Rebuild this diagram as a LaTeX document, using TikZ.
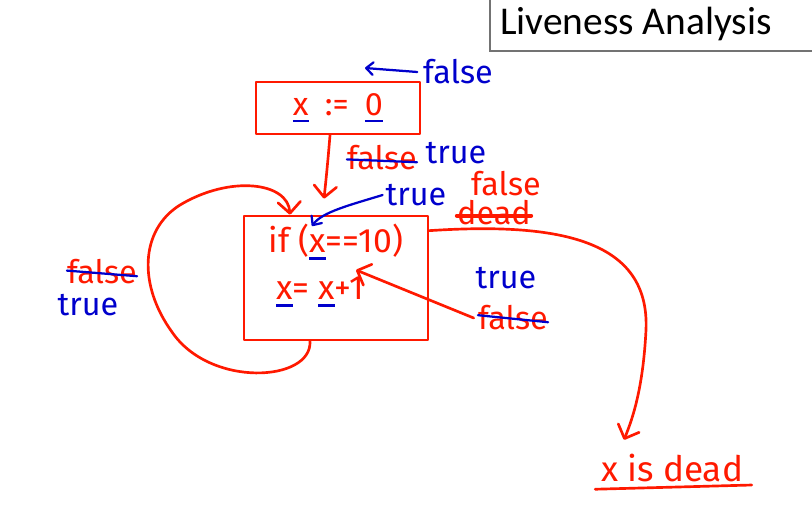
\documentclass[tikz,border=0pt]{standalone}
\usepackage{fontspec}
\setmainfont{Carlito}
\newfontfamily\penfont{Fira Sans}
\usetikzlibrary{arrows.meta}

\newcommand\blueline[1]{\setbox0\hbox{#1}\rlap{\textcolor{inkblue}{\rule[-5pt]{\wd0}{2pt}}}\box0}

\begin{document}
\begin{tikzpicture}[x=0.025cm,y=-0.025cm,
    redink/.style={draw=inkred, line width=1.9pt, line cap=round, line join=round},
    blueink/.style={draw=inkblue, line width=1.6pt, line cap=round, line join=round},
    redword/.style={text=inkred, font=\penfont\fontsize{23}{25}\selectfont, inner sep=0pt},
    blueword/.style={text=inkblue, font=\penfont\fontsize{23}{25}\selectfont, inner sep=0pt},
    bigtip/.style={-{Straight Barb[length=8pt,width=16pt,round]}},
    smalltip/.style={-{Straight Barb[length=5pt,width=9pt,round]}}]
  \colorlet{inkred}{red!90!yellow}
  \colorlet{inkblue}{blue!80!black}

  \useasboundingbox (0,0) rectangle (812,515);

  \draw[black!55, line width=0.8pt] (490,-2) -- (490,51) -- (814,51);
  \node[font=\fontsize{28}{30}\selectfont] (title) at (636,24) {Liveness Analysis};

  % the two blocks
  \node[redink, minimum width=4.1cm, minimum height=1.3cm] (init) at (338,108) {};
  \node[redword] (initcode) at (init) {\blueline{x}\hspace{0.5em}:=\hspace{0.5em}\blueline{0}};

  \node[redink, minimum width=4.6cm, minimum height=3.1cm] (body) at (336,278) {};
  \node[redword, font=\penfont\fontsize{24}{26}\selectfont] (cond) at (336,242) {if (\blueline{x}==10)};
  \node[redword, font=\penfont\fontsize{24}{26}\selectfont] (incr) at (320,292) {\blueline{x}= \blueline{x}+1};

  \node[redword, font=\penfont\fontsize{25}{27}\selectfont] (dead) at (672,468) {x is dead};
  \draw[redink] ([xshift=-4pt,yshift=-5pt]dead.south west) -- ([xshift=6pt,yshift=-2pt]dead.south east);

  % edges
  \draw[redink, bigtip] ([xshift=-0.2cm]init.south) .. controls (328,160) and (326,180) .. ([xshift=-0.3cm,yshift=0.4cm]body.north);
  \draw[redink, bigtip] ([xshift=-0.65cm]body.south) .. controls (312,382) and (210,388) .. (172,332)
    .. controls (138,285) and (140,230) .. (180,205)
    .. controls (230,175) and (288,182) .. ([xshift=-1.15cm]body.north);
  \draw[redink, bigtip] ([yshift=-0.4cm]body.north east) .. controls (560,222) and (650,240) .. (646,330)
    .. controls (643,390) and (632,420) .. ([xshift=-1.2cm,yshift=0.35cm]dead.north);

  % liveness at the entry
  \node[blueword] (entry) at (458,72) {false};
  \coordinate (entrytip) at (365,68);
  \draw[blueink, smalltip] ([xshift=-4pt]entry.west) -- (entrytip);

  \node[redword] (initfalse) at (382,158) {false};
  \draw[blueink] ([yshift=-1pt]initfalse.west) -- ([yshift=-3pt]initfalse.east);
  \node[blueword] (inittrue) at (456,153) {true};

  \node[blueword] (condtrue) at (416,195) {true};
  \coordinate (condx) at (312,226);
  \draw[blueink, smalltip] ([xshift=-2pt]condtrue.west) .. controls (350,205) and (322,212) .. (condx);

  \node[redword] (exitfalse) at (506,184) {false};
  \node[redword] (exitdead) at (494,213) {dead};
  \draw[redink, line width=3pt] ([yshift=-2pt]exitdead.west) -- ([yshift=-2pt]exitdead.east);

  \node[blueword] (backtrue) at (506,278) {true};
  \node[redword] (backfalse) at (513,318) {false};
  \draw[blueink] ([yshift=2pt]backfalse.west) -- ([yshift=-3pt]backfalse.east);
  \coordinate (incrtip) at (356,270);
  \draw[redink, bigtip] ([xshift=-3pt]backfalse.west) -- (incrtip);

  \node[redword] (leftfalse) at (102,272) {false};
  \draw[blueink] ([yshift=1pt]leftfalse.west) -- ([yshift=-3pt]leftfalse.east);
  \node[blueword] (lefttrue) at (88,305) {true};

\end{tikzpicture}
\end{document}
